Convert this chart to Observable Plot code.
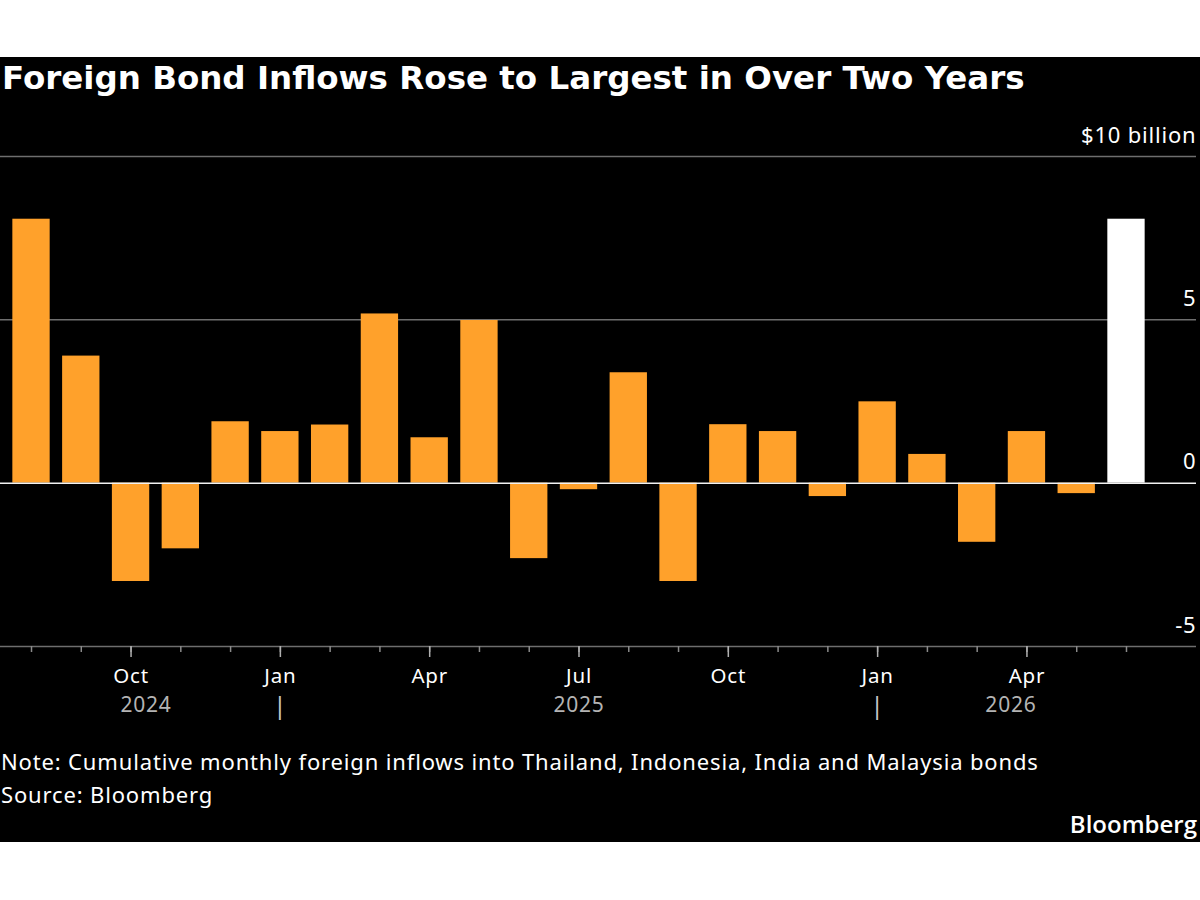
<!DOCTYPE html>
<html>
<head>
<meta charset="utf-8">
<script src="https://cdn.jsdelivr.net/npm/d3@7"></script>
<script src="https://cdn.jsdelivr.net/npm/@observablehq/plot@0.6"></script>
<style>
  html, body { margin: 0; padding: 0; background: #fff; width: 1200px; height: 900px; overflow: hidden; }
  #panel { position: absolute; left: 0; top: 57px; width: 1200px; height: 785px; background: #000; }
  #title { position: absolute; left: 2px; top: 3px; color: #fff; font-family: "DejaVu Sans", sans-serif; font-weight: bold; font-size: 32.5px; line-height: 36px; white-space: nowrap; }
  #plot { position: absolute; left: 0; top: 48px; }
  #note { position: absolute; left: 1px; top: 688px; color: #fff; font-family: "Noto Sans", sans-serif; font-size: 22px; letter-spacing: 0.85px; line-height: 33px; white-space: nowrap; }
  #logo { position: absolute; right: 3px; top: 752px; color: #fff; font-family: "Open Sans", sans-serif; font-weight: 600; font-size: 24px; line-height: 30px; }
  #plot svg text { letter-spacing: 0.8px; }
</style>
</head>
<body>
<div id="panel">
  <div id="title">Foreign Bond Inflows Rose to Largest in Over Two Years</div>
  <div id="plot"></div>
  <div id="note">Note: Cumulative monthly foreign inflows into Thailand, Indonesia, India and Malaysia bonds<br>Source: Bloomberg</div>
  <div id="logo">Bloomberg</div>
</div>
<script>
// Monthly foreign bond inflows, $ billion
const months = [
  "2024-08","2024-09","2024-10","2024-11","2024-12",
  "2025-01","2025-02","2025-03","2025-04","2025-05","2025-06",
  "2025-07","2025-08","2025-09","2025-10","2025-11","2025-12",
  "2026-01","2026-02","2026-03","2026-04","2026-05","2026-06"
];
const values = [
  8.08, 3.89, -3.01, -2.01, 1.88,
  1.58, 1.78, 5.18, 1.39, 4.98, -2.31,
  -0.20, 3.38, -3.01, 1.79, 1.58, -0.41,
  2.49, 0.88, -1.81, 1.58, -0.32, 8.08
];
const highlightMonth = "2026-06";

const yTicks = [10, 5, 0, -5];
const yTickLabels = ["$10 billion", "5", "0", "-5"];

const majorMonths = ["2024-10","2025-01","2025-04","2025-07","2025-10","2026-01","2026-04"];
const majorLabels = ["Oct","Jan","Apr","Jul","Oct","Jan","Apr"];
const yearBreaks = ["2025-01","2026-01"];
const yearLabels = ["2024","2025","2026"];
const yearAnchorMonths = ["2024-10","2025-07","2026-04"];
const yearOffsets = [15, 0, -16];

const data = months.map((m, i) => ({month: m, value: values[i], latest: m === highlightMonth}));
const majorData = majorMonths.map((m, i) => ({month: m, label: majorLabels[i]}));
const yearData = yearLabels.map((y, i) => ({month: yearAnchorMonths[i], label: y, off: yearOffsets[i]}));

const font = "'Noto Sans', sans-serif";

const chart = Plot.plot({
  width: 1200,
  height: 621,
  marginTop: 51,
  marginBottom: 80,
  marginLeft: 0,
  marginRight: 4,
  style: {background: "transparent", color: "#fff", fontFamily: font, fontSize: "20px"},
  x: {type: "band", domain: months, range: [0, 1157], paddingInner: 0.25, paddingOuter: 0.248, round: false, axis: null},
  y: {domain: [-5, 10], axis: null},
  marks: [
    Plot.ruleY([10, 5, -5], {stroke: "#6e6e6e", strokeWidth: 1.5}),
    Plot.barY(data, {x: "month", y: "value", fill: d => d.latest ? "#ffffff" : "#ffa12b"}),
    Plot.ruleY([0], {stroke: "#f2f2f2", strokeWidth: 1.5}),
    Plot.text(yTicks, {y: d => d, text: (d, i) => yTickLabels[i], frameAnchor: "right", textAnchor: "end", lineAnchor: "middle", dy: -21, fill: "#fff", fontSize: 22}),
    Plot.axisX({ticks: months, tickSize: 6, tickFormat: () => "", stroke: "#8a8a8a", strokeWidth: 1.5, label: null}),
    Plot.axisX({ticks: majorMonths, tickSize: 11, tickFormat: () => "", stroke: "#b0b0b0", strokeWidth: 1.5, label: null}),
    Plot.text(majorData, {x: "month", text: "label", frameAnchor: "bottom", lineAnchor: "middle", dy: 30, fill: "#fff", fontSize: 20.5}),
    Plot.text(yearBreaks, {x: d => d, text: () => "|", frameAnchor: "bottom", lineAnchor: "middle", dy: 60, fill: "#c8c8c8", fontSize: 24}),
    ...yearData.map(d => Plot.text([d], {x: "month", text: "label", frameAnchor: "bottom", lineAnchor: "middle", dy: 59, dx: d.off, fill: "#b4b4b4", fontSize: 21}))
  ]
});
document.getElementById("plot").appendChild(chart);
</script>
</body>
</html>
